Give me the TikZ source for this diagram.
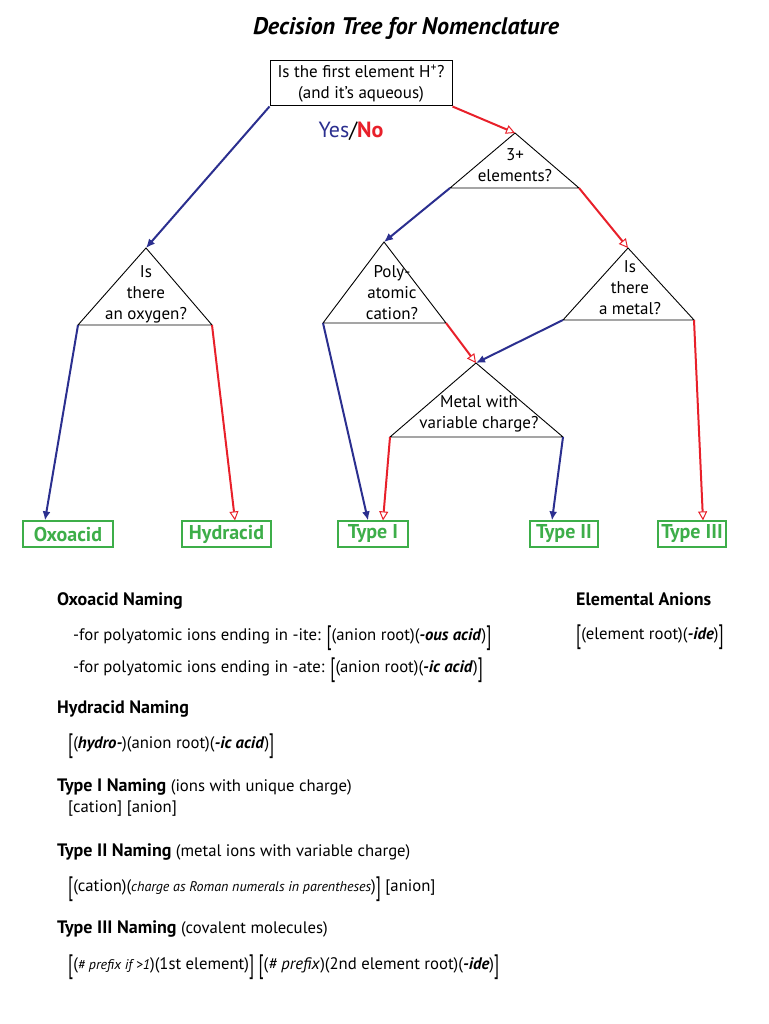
\documentclass[tikz,border=0pt]{standalone}
\usepackage{fontspec}
\setmainfont{PT Sans}
\usepackage{graphicx}
\usetikzlibrary{arrows.meta}
\definecolor{cblue}{RGB}{43,47,143}
\definecolor{cred}{RGB}{232,32,42}
\definecolor{cgreen}{RGB}{61,174,73}
\newcommand{\Lb}{\raisebox{-0.25em}{\scalebox{1}[1.6]{[}}}
\newcommand{\Rb}{\raisebox{-0.25em}{\scalebox{1}[1.6]{]}}}
\begin{document}
\begin{tikzpicture}[x=1pt,y=-1pt,
  tri/.style={draw=black,line width=0.9pt},
  ttxt/.style={align=center,font=\fontsize{17}{21}\selectfont,inner sep=0pt},
  yes/.style={draw=cblue,line width=2pt,-{Latex[length=9pt,width=8pt]}},
  no/.style={draw=cred,line width=2pt,-{Triangle[open,length=9pt,width=9pt,line width=1pt]}},
  res/.style={draw=cgreen,line width=1.2pt,text=cgreen,font=\fontsize{20}{24}\selectfont\bfseries,inner sep=0pt,minimum height=26pt},
  txt/.style={anchor=base west,inner sep=0pt,font=\fontsize{16.7}{20}\selectfont},
  hd/.style={txt,font=\fontsize{18}{21}\selectfont\bfseries}]
\useasboundingbox (0,0) rectangle (768,1024);
\node[font=\fontsize{24}{28}\selectfont\bfseries\itshape] (title) at (406,28) {Decision Tree for Nomenclature};
\node[draw,line width=1pt,minimum width=182pt,minimum height=45pt,align=center,font=\fontsize{17}{21}\selectfont,inner sep=0pt] (q) at (361,83.5) {Is the first element H\textsuperscript{+}?\\(and it’s aqueous)};
\node[font=\fontsize{22}{26}\selectfont] (yn) at (351,131) {\textcolor{cblue}{Yes}/\textcolor{cred}{\bfseries No}};
% triangles
\coordinate (t1a) at (146,248); \coordinate (t1l) at (78,325); \coordinate (t1r) at (212,325);
\coordinate (t2a) at (384,242); \coordinate (t2l) at (323,323); \coordinate (t2r) at (446,323);
\coordinate (t3a) at (515,133); \coordinate (t3l) at (450,188); \coordinate (t3r) at (579,188);
\coordinate (t4a) at (628,248); \coordinate (t4l) at (563,320); \coordinate (t4r) at (694,320);
\coordinate (t5a) at (476,363); \coordinate (t5l) at (390,437); \coordinate (t5r) at (563,437);
\draw[tri] (t1a)--(t1l)--(t1r)--cycle;
\draw[tri] (t2a)--(t2l)--(t2r)--cycle;
\draw[tri] (t3a)--(t3l)--(t3r)--cycle;
\draw[tri] (t4a)--(t4l)--(t4r)--cycle;
\draw[tri] (t5a)--(t5l)--(t5r)--cycle;
\node[ttxt] (t1) at (146,294) {Is\\there\\an oxygen?};
\node[ttxt] (t2) at (392,293) {Poly-\\atomic\\cation?};
\node[ttxt] (t3) at (515,165) {3+\\elements?};
\node[ttxt] (t4) at (630,288) {Is\\there\\a metal?};
\node[ttxt] (t5) at (479,414) {Metal with\\variable charge?};
% results
\node[res,minimum width=90pt] (oxo) at (68,534) {Oxoacid};
\node[res,minimum width=89pt] (hyd) at (226.5,534) {Hydracid};
\node[res,minimum width=70pt] (ty1) at (373,534) {Type I};
\node[res,minimum width=68pt] (ty2) at (564,534) {Type II};
\node[res,minimum width=68pt] (ty3) at (692,534) {Type III};
% connectors
\draw[yes] (q.south west) -- (t1a);
\draw[no] (q.south east) -- (t3a);
\draw[yes] (t3l) -- (t2a);
\draw[no] (t3r) -- (t4a);
\draw[yes] (t1l) -- (oxo.north -| 45,0);
\draw[no] (t1r) -- (hyd.north -| 235,0);
\draw[yes] (t2l) -- (ty1.north -| 368,0);
\draw[no] (t2r) -- (t5a);
\draw[yes] (t4l) -- (t5a);
\draw[no] (t4r) -- (ty3.north -| 703,0);
\draw[no] (t5l) -- (ty1.north -| 383,0);
\draw[yes] (t5r) -- (ty2.north -| 552,0);
% bottom text
\node[hd] (h1) at (57,605) {Oxoacid Naming};
\node[txt] (l1) at (73,640) {-for polyatomic ions ending in -ite: \Lb(anion root)(\textbf{\textit{-ous acid}})\Rb};
\node[txt] (l2) at (73,672) {-for polyatomic ions ending in -ate: \Lb(anion root)(\textbf{\textit{-ic acid}})\Rb};
\node[hd] (h2) at (57,713) {Hydracid Naming};
\node[txt] (l3) at (68,748) {\Lb(\textbf{\textit{hydro-}})(anion root)(\textbf{\textit{-ic acid}})\Rb};
\node[txt] (h3) at (57,791) {\textbf{\fontsize{18}{21}\selectfont Type I Naming} (ions with unique charge)};
\node[txt] (l4) at (68,812) {[cation] [anion]};
\node[txt] (h4) at (57,856) {\textbf{\fontsize{18}{21}\selectfont Type II Naming} (metal ions with variable charge)};
\node[txt] (l5) at (68,891) {\Lb(cation)(\textit{\fontsize{14}{17}\selectfont charge as Roman numerals in parentheses})\Rb\ [anion]};
\node[txt] (h5) at (57,933) {\textbf{\fontsize{18}{21}\selectfont Type III Naming} (covalent molecules)};
\node[txt] (l6) at (68,969) {\Lb(\textit{\fontsize{14}{17}\selectfont\# prefix if >1})(1st element)\Rb\ \Lb(\textit{\# prefix})(2nd element root)(\textbf{\textit{-ide}})\Rb};
\node[hd] (h6) at (576,605) {Elemental Anions};
\node[txt] (l7) at (576,639) {\Lb(element root)(\textbf{\textit{-ide}})\Rb};
\end{tikzpicture}
\end{document}
